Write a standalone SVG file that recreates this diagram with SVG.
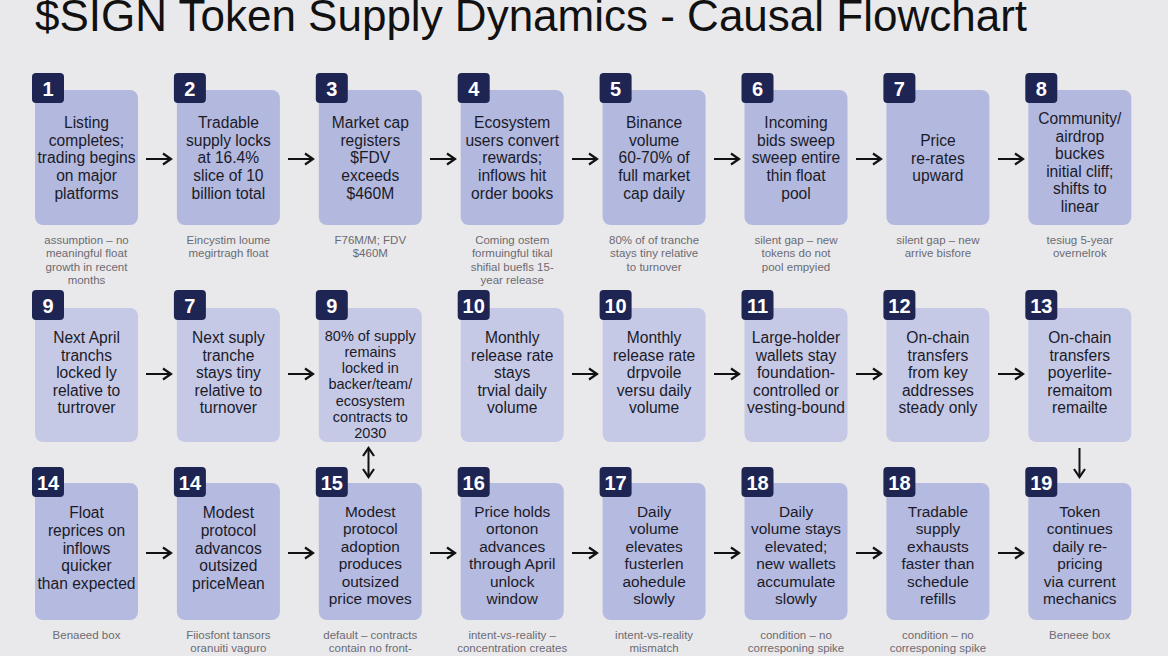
<svg xmlns="http://www.w3.org/2000/svg" width="1168" height="656" viewBox="0 0 1168 656">
<defs>
<marker id="ah" markerUnits="userSpaceOnUse" markerWidth="12" markerHeight="14" viewBox="0 0 12 14" refX="10" refY="7" orient="auto-start-reverse">
<path d="M2,1.5 L10,7 L2,12.5" fill="none" stroke="#111" stroke-width="2.2" stroke-linejoin="miter"/>
</marker>
<style>
.bg{fill:#e9e9eb}
.title{font-family:"Liberation Sans",Arial,sans-serif;font-size:44px;fill:#111}
.b1{fill:#b3b8df}
.b2{fill:#c6c9e6}
.b3{fill:#b5bae0}
.badge{fill:#1f2552}
.num{font-family:"Liberation Sans",Arial,sans-serif;font-weight:bold;font-size:20px;fill:#fff;text-anchor:middle}
.t{font-family:"Liberation Sans",Arial,sans-serif;font-size:15.6px;fill:#1b1b28;text-anchor:middle}
.t6{font-family:"Liberation Sans",Arial,sans-serif;font-size:15.4px;fill:#1b1b28;text-anchor:middle}
.ts{font-family:"Liberation Sans",Arial,sans-serif;font-size:14.5px;fill:#1b1b28;text-anchor:middle}
.cap{font-family:"Liberation Sans",Arial,sans-serif;font-size:11.5px;fill:#6b6b73;text-anchor:middle}
.arr{stroke:#111;stroke-width:2;fill:none}
</style>
</defs>
<rect class="bg" x="0" y="0" width="1168" height="656"/>
<text class="title" x="35" y="31">$SIGN Token Supply Dynamics - Causal Flowchart</text>

<!-- Row 1 -->
<g id="n1"><rect class="b1" x="35" y="90" width="103" height="135" rx="8"/><rect class="badge" x="32" y="73" width="32" height="30" rx="4"/><text class="num" x="48" y="96">1</text>
<text class="t" x="86.5" y="128"><tspan x="86.5">Listing</tspan><tspan x="86.5" dy="17.7">completes;</tspan><tspan x="86.5" dy="17.7">trading begins</tspan><tspan x="86.5" dy="17.7">on major</tspan><tspan x="86.5" dy="17.7">platforms</tspan></text>
<text class="cap" x="86.5" y="244"><tspan x="86.5">assumption – no</tspan><tspan x="86.5" dy="13.3">meaningful float</tspan><tspan x="86.5" dy="13.3">growth in recent</tspan><tspan x="86.5" dy="13.3">months</tspan></text></g>

<g id="n2"><rect class="b1" x="176.9" y="90" width="103" height="135" rx="8"/><rect class="badge" x="173.9" y="73" width="32" height="30" rx="4"/><text class="num" x="189.9" y="96">2</text>
<text class="t" x="228.4" y="128"><tspan x="228.4">Tradable</tspan><tspan x="228.4" dy="17.7">supply locks</tspan><tspan x="228.4" dy="17.7">at 16.4%</tspan><tspan x="228.4" dy="17.7">slice of 10</tspan><tspan x="228.4" dy="17.7">billion total</tspan></text>
<text class="cap" x="228.4" y="244"><tspan x="228.4">Eincystim loume</tspan><tspan x="228.4" dy="13.3">megirtragh float</tspan></text></g>

<g id="n3"><rect class="b1" x="318.8" y="90" width="103" height="135" rx="8"/><rect class="badge" x="315.8" y="73" width="32" height="30" rx="4"/><text class="num" x="331.8" y="96">3</text>
<text class="t" x="370.3" y="128"><tspan x="370.3">Market cap</tspan><tspan x="370.3" dy="17.7">registers</tspan><tspan x="370.3" dy="17.7">$FDV</tspan><tspan x="370.3" dy="17.7">exceeds</tspan><tspan x="370.3" dy="17.7">$460M</tspan></text>
<text class="cap" x="370.3" y="244"><tspan x="370.3">F76M/M; FDV</tspan><tspan x="370.3" dy="13.3">$460M</tspan></text></g>

<g id="n4"><rect class="b1" x="460.7" y="90" width="103" height="135" rx="8"/><rect class="badge" x="457.7" y="73" width="32" height="30" rx="4"/><text class="num" x="473.7" y="96">4</text>
<text class="t" x="512.2" y="128"><tspan x="512.2">Ecosystem</tspan><tspan x="512.2" dy="17.7">users convert</tspan><tspan x="512.2" dy="17.7">rewards;</tspan><tspan x="512.2" dy="17.7">inflows hit</tspan><tspan x="512.2" dy="17.7">order books</tspan></text>
<text class="cap" x="512.2" y="244"><tspan x="512.2">Coming ostem</tspan><tspan x="512.2" dy="13.3">formuingful tikal</tspan><tspan x="512.2" dy="13.3">shifial buefls 15-</tspan><tspan x="512.2" dy="13.3">year release</tspan></text></g>

<g id="n5"><rect class="b1" x="602.6" y="90" width="103" height="135" rx="8"/><rect class="badge" x="599.6" y="73" width="32" height="30" rx="4"/><text class="num" x="615.6" y="96">5</text>
<text class="t" x="654.1" y="128"><tspan x="654.1">Binance</tspan><tspan x="654.1" dy="17.7">volume</tspan><tspan x="654.1" dy="17.7">60-70% of</tspan><tspan x="654.1" dy="17.7">full market</tspan><tspan x="654.1" dy="17.7">cap daily</tspan></text>
<text class="cap" x="654.1" y="244"><tspan x="654.1">80% of of tranche</tspan><tspan x="654.1" dy="13.3">stays tiny relative</tspan><tspan x="654.1" dy="13.3">to turnover</tspan></text></g>

<g id="n6"><rect class="b1" x="744.5" y="90" width="103" height="135" rx="8"/><rect class="badge" x="741.5" y="73" width="32" height="30" rx="4"/><text class="num" x="757.5" y="96">6</text>
<text class="t" x="796" y="128"><tspan x="796">Incoming</tspan><tspan x="796" dy="17.7">bids sweep</tspan><tspan x="796" dy="17.7">sweep entire</tspan><tspan x="796" dy="17.7">thin float</tspan><tspan x="796" dy="17.7">pool</tspan></text>
<text class="cap" x="796" y="244"><tspan x="796">silent gap – new</tspan><tspan x="796" dy="13.3">tokens do not</tspan><tspan x="796" dy="13.3">pool empyied</tspan></text></g>

<g id="n7"><rect class="b1" x="886.4" y="90" width="103" height="135" rx="8"/><rect class="badge" x="883.4" y="73" width="32" height="30" rx="4"/><text class="num" x="899.4" y="96">7</text>
<text class="t" x="937.9" y="146"><tspan x="937.9">Price</tspan><tspan x="937.9" dy="17.7">re-rates</tspan><tspan x="937.9" dy="17.7">upward</tspan></text>
<text class="cap" x="937.9" y="244"><tspan x="937.9">silent gap – new</tspan><tspan x="937.9" dy="13.3">arrive bisfore</tspan></text></g>

<g id="n8"><rect class="b1" x="1028.3" y="90" width="103" height="135" rx="8"/><rect class="badge" x="1025.3" y="73" width="32" height="30" rx="4"/><text class="num" x="1041.3" y="96">8</text>
<text class="t" x="1079.8" y="124"><tspan x="1079.8">Community/</tspan><tspan x="1079.8" dy="17.6">airdrop</tspan><tspan x="1079.8" dy="17.6">buckes</tspan><tspan x="1079.8" dy="17.6">initial cliff;</tspan><tspan x="1079.8" dy="17.6">shifts to</tspan><tspan x="1079.8" dy="17.6">linear</tspan></text>
<text class="cap" x="1079.8" y="244"><tspan x="1079.8">tesiug 5-year</tspan><tspan x="1079.8" dy="13.3">overnelrok</tspan></text></g>

<!-- Row 2 -->
<g id="n9a"><rect class="b2" x="35" y="308" width="103" height="134" rx="8"/><rect class="badge" x="32" y="290" width="32" height="30" rx="4"/><text class="num" x="48" y="313">9</text>
<text class="t" x="86.5" y="343"><tspan x="86.5">Next April</tspan><tspan x="86.5" dy="17.6">tranchs</tspan><tspan x="86.5" dy="17.6">locked ly</tspan><tspan x="86.5" dy="17.6">relative to</tspan><tspan x="86.5" dy="17.6">turtrover</tspan></text></g>

<g id="n7b"><rect class="b2" x="176.9" y="308" width="103" height="134" rx="8"/><rect class="badge" x="173.9" y="290" width="32" height="30" rx="4"/><text class="num" x="189.9" y="313">7</text>
<text class="t" x="228.4" y="343"><tspan x="228.4">Next suply</tspan><tspan x="228.4" dy="17.6">tranche</tspan><tspan x="228.4" dy="17.6">stays tiny</tspan><tspan x="228.4" dy="17.6">relative to</tspan><tspan x="228.4" dy="17.6">turnover</tspan></text></g>

<g id="n9b"><rect class="b2" x="318.8" y="308" width="103" height="134" rx="8"/><rect class="badge" x="315.8" y="290" width="32" height="30" rx="4"/><text class="num" x="331.8" y="313">9</text>
<text class="ts" x="370.3" y="340.5"><tspan x="370.3">80% of supply</tspan><tspan x="370.3" dy="16.3">remains</tspan><tspan x="370.3" dy="16.3">locked in</tspan><tspan x="370.3" dy="16.3">backer/team/</tspan><tspan x="370.3" dy="16.3">ecosystem</tspan><tspan x="370.3" dy="16.3">contracts to</tspan><tspan x="370.3" dy="16.3">2030</tspan></text></g>

<g id="n10a"><rect class="b2" x="460.7" y="308" width="103" height="134" rx="8"/><rect class="badge" x="457.7" y="290" width="32" height="30" rx="4"/><text class="num" x="473.7" y="313">10</text>
<text class="t" x="512.2" y="343"><tspan x="512.2">Monthly</tspan><tspan x="512.2" dy="17.6">release rate</tspan><tspan x="512.2" dy="17.6">stays</tspan><tspan x="512.2" dy="17.6">trvial daily</tspan><tspan x="512.2" dy="17.6">volume</tspan></text></g>

<g id="n10b"><rect class="b2" x="602.6" y="308" width="103" height="134" rx="8"/><rect class="badge" x="599.6" y="290" width="32" height="30" rx="4"/><text class="num" x="615.6" y="313">10</text>
<text class="t" x="654.1" y="343"><tspan x="654.1">Monthly</tspan><tspan x="654.1" dy="17.6">release rate</tspan><tspan x="654.1" dy="17.6">drpvoile</tspan><tspan x="654.1" dy="17.6">versu daily</tspan><tspan x="654.1" dy="17.6">volume</tspan></text></g>

<g id="n11"><rect class="b2" x="744.5" y="308" width="103" height="134" rx="8"/><rect class="badge" x="741.5" y="290" width="32" height="30" rx="4"/><text class="num" x="757.5" y="313">11</text>
<text class="t" x="796" y="343"><tspan x="796">Large-holder</tspan><tspan x="796" dy="17.6">wallets stay</tspan><tspan x="796" dy="17.6">foundation-</tspan><tspan x="796" dy="17.6">controlled or</tspan><tspan x="796" dy="17.6">vesting-bound</tspan></text></g>

<g id="n12"><rect class="b2" x="886.4" y="308" width="103" height="134" rx="8"/><rect class="badge" x="883.4" y="290" width="32" height="30" rx="4"/><text class="num" x="899.4" y="313">12</text>
<text class="t" x="937.9" y="343"><tspan x="937.9">On-chain</tspan><tspan x="937.9" dy="17.6">transfers</tspan><tspan x="937.9" dy="17.6">from key</tspan><tspan x="937.9" dy="17.6">addresses</tspan><tspan x="937.9" dy="17.6">steady only</tspan></text></g>

<g id="n13"><rect class="b2" x="1028.3" y="308" width="103" height="134" rx="8"/><rect class="badge" x="1025.3" y="290" width="32" height="30" rx="4"/><text class="num" x="1041.3" y="313">13</text>
<text class="t" x="1079.8" y="343"><tspan x="1079.8">On-chain</tspan><tspan x="1079.8" dy="17.6">transfers</tspan><tspan x="1079.8" dy="17.6">poyerlite-</tspan><tspan x="1079.8" dy="17.6">remaitom</tspan><tspan x="1079.8" dy="17.6">remailte</tspan></text></g>

<!-- Row 3 -->
<g id="n14a"><rect class="b3" x="35" y="483" width="103" height="137" rx="8"/><rect class="badge" x="32" y="467" width="32" height="30" rx="4"/><text class="num" x="48" y="490">14</text>
<text class="t" x="86.5" y="518"><tspan x="86.5">Float</tspan><tspan x="86.5" dy="17.75">reprices on</tspan><tspan x="86.5" dy="17.75">inflows</tspan><tspan x="86.5" dy="17.75">quicker</tspan><tspan x="86.5" dy="17.75">than expected</tspan></text>
<text class="cap" x="86.5" y="639"><tspan x="86.5">Benaeed box</tspan></text></g>

<g id="n14b"><rect class="b3" x="176.9" y="483" width="103" height="137" rx="8"/><rect class="badge" x="173.9" y="467" width="32" height="30" rx="4"/><text class="num" x="189.9" y="490">14</text>
<text class="t" x="228.4" y="518"><tspan x="228.4">Modest</tspan><tspan x="228.4" dy="17.75">protocol</tspan><tspan x="228.4" dy="17.75">advancos</tspan><tspan x="228.4" dy="17.75">outsized</tspan><tspan x="228.4" dy="17.75">priceMean</tspan></text>
<text class="cap" x="228.4" y="639"><tspan x="228.4">Fiiosfont tansors</tspan><tspan x="228.4" dy="13.3">oranuiti vaguro</tspan></text></g>

<g id="n15"><rect class="b3" x="318.8" y="483" width="103" height="137" rx="8"/><rect class="badge" x="315.8" y="467" width="32" height="30" rx="4"/><text class="num" x="331.8" y="490">15</text>
<text class="t6" x="370.3" y="517"><tspan x="370.3">Modest</tspan><tspan x="370.3" dy="17.4">protocol</tspan><tspan x="370.3" dy="17.4">adoption</tspan><tspan x="370.3" dy="17.4">produces</tspan><tspan x="370.3" dy="17.4">outsized</tspan><tspan x="370.3" dy="17.4">price moves</tspan></text>
<text class="cap" x="370.3" y="639"><tspan x="370.3">default – contracts</tspan><tspan x="370.3" dy="13.3">contain no front-</tspan></text></g>

<g id="n16"><rect class="b3" x="460.7" y="483" width="103" height="137" rx="8"/><rect class="badge" x="457.7" y="467" width="32" height="30" rx="4"/><text class="num" x="473.7" y="490">16</text>
<text class="t6" x="512.2" y="517"><tspan x="512.2">Price holds</tspan><tspan x="512.2" dy="17.4">ortonon</tspan><tspan x="512.2" dy="17.4">advances</tspan><tspan x="512.2" dy="17.4">through April</tspan><tspan x="512.2" dy="17.4">unlock</tspan><tspan x="512.2" dy="17.4">window</tspan></text>
<text class="cap" x="512.2" y="639"><tspan x="512.2">intent-vs-reality –</tspan><tspan x="512.2" dy="13.3">concentration creates</tspan></text></g>

<g id="n17"><rect class="b3" x="602.6" y="483" width="103" height="137" rx="8"/><rect class="badge" x="599.6" y="467" width="32" height="30" rx="4"/><text class="num" x="615.6" y="490">17</text>
<text class="t6" x="654.1" y="517"><tspan x="654.1">Daily</tspan><tspan x="654.1" dy="17.4">volume</tspan><tspan x="654.1" dy="17.4">elevates</tspan><tspan x="654.1" dy="17.4">fusterlen</tspan><tspan x="654.1" dy="17.4">aohedule</tspan><tspan x="654.1" dy="17.4">slowly</tspan></text>
<text class="cap" x="654.1" y="639"><tspan x="654.1">intent-vs-reality</tspan><tspan x="654.1" dy="13.3">mismatch</tspan></text></g>

<g id="n18a"><rect class="b3" x="744.5" y="483" width="103" height="137" rx="8"/><rect class="badge" x="741.5" y="467" width="32" height="30" rx="4"/><text class="num" x="757.5" y="490">18</text>
<text class="t6" x="796" y="517"><tspan x="796">Daily</tspan><tspan x="796" dy="17.4">volume stays</tspan><tspan x="796" dy="17.4">elevated;</tspan><tspan x="796" dy="17.4">new wallets</tspan><tspan x="796" dy="17.4">accumulate</tspan><tspan x="796" dy="17.4">slowly</tspan></text>
<text class="cap" x="796" y="639"><tspan x="796">condition – no</tspan><tspan x="796" dy="13.3">corresponing spike</tspan></text></g>

<g id="n18b"><rect class="b3" x="886.4" y="483" width="103" height="137" rx="8"/><rect class="badge" x="883.4" y="467" width="32" height="30" rx="4"/><text class="num" x="899.4" y="490">18</text>
<text class="t6" x="937.9" y="517"><tspan x="937.9">Tradable</tspan><tspan x="937.9" dy="17.4">supply</tspan><tspan x="937.9" dy="17.4">exhausts</tspan><tspan x="937.9" dy="17.4">faster than</tspan><tspan x="937.9" dy="17.4">schedule</tspan><tspan x="937.9" dy="17.4">refills</tspan></text>
<text class="cap" x="937.9" y="639"><tspan x="937.9">condition – no</tspan><tspan x="937.9" dy="13.3">corresponing spike</tspan></text></g>

<g id="n19"><rect class="b3" x="1028.3" y="483" width="103" height="137" rx="8"/><rect class="badge" x="1025.3" y="467" width="32" height="30" rx="4"/><text class="num" x="1041.3" y="490">19</text>
<text class="t6" x="1079.8" y="517"><tspan x="1079.8">Token</tspan><tspan x="1079.8" dy="17.4">continues</tspan><tspan x="1079.8" dy="17.4">daily re-</tspan><tspan x="1079.8" dy="17.4">pricing</tspan><tspan x="1079.8" dy="17.4">via current</tspan><tspan x="1079.8" dy="17.4">mechanics</tspan></text>
<text class="cap" x="1079.8" y="639"><tspan x="1079.8">Beneee box</tspan></text></g>

<!-- Connectors -->
<g id="connectors">
<line class="arr" x1="146" y1="159" x2="171" y2="159" marker-end="url(#ah)"/>
<line class="arr" x1="288" y1="159" x2="313" y2="159" marker-end="url(#ah)"/>
<line class="arr" x1="430" y1="159" x2="455" y2="159" marker-end="url(#ah)"/>
<line class="arr" x1="572" y1="159" x2="597" y2="159" marker-end="url(#ah)"/>
<line class="arr" x1="714" y1="159" x2="739" y2="159" marker-end="url(#ah)"/>
<line class="arr" x1="856" y1="159" x2="881" y2="159" marker-end="url(#ah)"/>
<line class="arr" x1="998" y1="159" x2="1023" y2="159" marker-end="url(#ah)"/>

<line class="arr" x1="146" y1="374" x2="171" y2="374" marker-end="url(#ah)"/>
<line class="arr" x1="288" y1="374" x2="313" y2="374" marker-end="url(#ah)"/>
<line class="arr" x1="572" y1="374" x2="597" y2="374" marker-end="url(#ah)"/>
<line class="arr" x1="714" y1="374" x2="739" y2="374" marker-end="url(#ah)"/>
<line class="arr" x1="856" y1="374" x2="881" y2="374" marker-end="url(#ah)"/>
<line class="arr" x1="998" y1="374" x2="1023" y2="374" marker-end="url(#ah)"/>

<line class="arr" x1="146" y1="553" x2="171" y2="553" marker-end="url(#ah)"/>
<line class="arr" x1="288" y1="553" x2="313" y2="553" marker-end="url(#ah)"/>
<line class="arr" x1="430" y1="553" x2="455" y2="553" marker-end="url(#ah)"/>
<line class="arr" x1="572" y1="553" x2="597" y2="553" marker-end="url(#ah)"/>
<line class="arr" x1="714" y1="553" x2="739" y2="553" marker-end="url(#ah)"/>
<line class="arr" x1="856" y1="553" x2="881" y2="553" marker-end="url(#ah)"/>
<line class="arr" x1="998" y1="553" x2="1023" y2="553" marker-end="url(#ah)"/>

<line class="arr" x1="368.5" y1="448" x2="368.5" y2="477" marker-start="url(#ah)" marker-end="url(#ah)"/>
<line class="arr" x1="1079.5" y1="448" x2="1079.5" y2="477" marker-end="url(#ah)"/>
</g>
</svg>
